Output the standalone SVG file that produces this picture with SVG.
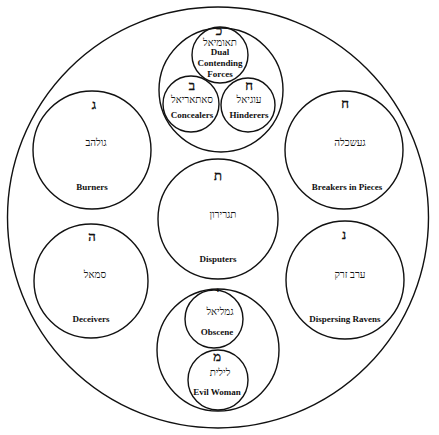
<svg xmlns="http://www.w3.org/2000/svg" width="439" height="435" viewBox="0 0 439 435">
<style>
  circle { fill: none; stroke: #111; stroke-width: 1.4; }
  text { font-family: "Liberation Serif", "DejaVu Serif", serif; fill: #111; text-anchor: middle; }
  .en { font-size: 9px; font-weight: bold; }
  .he { font-size: 10px; font-family: "Liberation Serif", "DejaVu Sans", serif; }
  .let { font-size: 13px; font-family: "Liberation Serif", "DejaVu Sans", serif; stroke: #111; stroke-width: 0.4; }
</style>
<rect width="439" height="435" fill="#fff"/>
<g id="outer">
  <circle cx="218" cy="217.5" r="210.5"/>
</g>
<g id="connectors"></g>
<g id="top-group">
  <circle cx="221" cy="90" r="62"/>
  <g id="thaumiel">
    <circle cx="220" cy="55" r="28"/>
    <text class="let" x="219" y="35">כ</text>
    <text class="he" x="220" y="46">תאומיאל</text>
    <text class="en" x="220" y="55">Dual</text>
    <text class="en" x="220" y="66">Contending</text>
    <text class="en" x="220" y="77">Forces</text>
  </g>
  <g id="satariel">
    <circle cx="191" cy="104" r="28"/>
    <text class="let" x="192" y="90">ב</text>
    <text class="he" x="192" y="103">סאתאריאל</text>
    <text class="en" x="192" y="118">Concealers</text>
  </g>
  <g id="ogiel">
    <circle cx="248" cy="105" r="27"/>
    <text class="let" x="249" y="90">ח</text>
    <text class="he" x="249" y="103">עוגיאל</text>
    <text class="en" x="249" y="118">Hinderers</text>
  </g>
</g>
<g id="burners">
  <circle cx="92" cy="150" r="59"/>
  <text class="let" x="94" y="109">ג</text>
  <text class="he" x="96" y="146">גולהב</text>
  <text class="en" x="92" y="190">Burners</text>
</g>
<g id="breakers">
  <circle cx="344" cy="150" r="59"/>
  <text class="let" x="345" y="108">ח</text>
  <text class="he" x="350" y="146">געשכלה</text>
  <text class="en" x="347" y="190">Breakers in Pieces</text>
</g>
<g id="disputers">
  <circle cx="218" cy="219" r="60"/>
  <text class="let" x="218" y="180">ת</text>
  <text class="he" x="223" y="218">תגרירון</text>
  <text class="en" x="218" y="262">Disputers</text>
</g>
<g id="deceivers">
  <circle cx="91" cy="281" r="57"/>
  <text class="let" x="92" y="241">ה</text>
  <text class="he" x="95" y="278">סמאל</text>
  <text class="en" x="91" y="322">Deceivers</text>
</g>
<g id="ravens">
  <circle cx="345" cy="280" r="59"/>
  <text class="let" x="344" y="239">נ</text>
  <text class="he" x="350" y="278">ערב זרק</text>
  <text class="en" x="345" y="322">Dispersing Ravens</text>
</g>
<g id="bottom-group">
  <circle cx="218" cy="350" r="61"/>
  <g id="gamaliel">
    <circle cx="214" cy="319" r="29"/>
    <text class="let" x="218" y="295" style="font-size:10px">י</text>
    <text class="he" x="220" y="315">גמליאל</text>
    <text class="en" x="217" y="335">Obscene</text>
  </g>
  <g id="lilith">
    <circle cx="218" cy="380" r="30"/>
    <text class="let" x="217" y="361">מ</text>
    <text class="he" x="220" y="376">לילית</text>
    <text class="en" x="217" y="395">Evil Woman</text>
  </g>
</g>
</svg>
